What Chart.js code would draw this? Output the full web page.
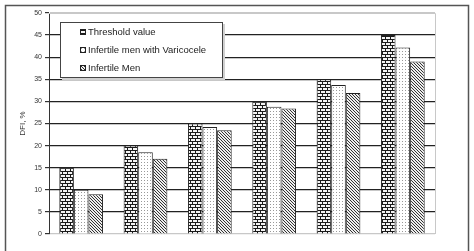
<!DOCTYPE html>
<html>
<head>
<meta charset="utf-8">
<script src="https://cdn.jsdelivr.net/npm/chart.js@4.4.1/dist/chart.umd.min.js"></script>
<style>
  html, body { margin: 0; padding: 0; background: #fff; }
  #wrap { width: 474px; height: 251px; }
</style>
</head>
<body>
<div id="wrap"><canvas id="dfiChart" width="474" height="251"></canvas></div>
<script>
// data
var groups = ['1', '2', '3', '4', '5', '6'];
var seriesNames = ['Threshold value', 'Infertile men with Varicocele', 'Infertile Men'];
var threshold = [15, 20, 25, 30, 35, 45];
var varicocele = [10, 18.5, 24.2, 28.8, 33.7, 42.2];
var infertile = [9, 17, 23.5, 28.4, 31.9, 39];
var yTicks = [0, 5, 10, 15, 20, 25, 30, 35, 40, 45, 50];

var ctx = document.getElementById('dfiChart').getContext('2d');

// fill patterns like the old excel ones
function makePattern(w, h, draw) {
    var c = document.createElement('canvas');
    c.width = w; c.height = h;
    var g = c.getContext('2d');
    draw(g);
    return ctx.createPattern(c, 'repeat');
}

var brick = makePattern(10, 6, function (g) {
    g.fillStyle = '#1a1a1a';
    g.fillRect(0, 0, 10, 6);
    g.fillStyle = '#f4f4f4';
    g.fillRect(1, 1, 4, 2); g.fillRect(6, 1, 4, 2);
    g.fillRect(3, 4, 4, 2); g.fillRect(8, 4, 2, 2); g.fillRect(0, 4, 2, 2);
});
var dotted = makePattern(3, 3, function (g) {
    g.fillStyle = '#fff';
    g.fillRect(0, 0, 3, 3);
    g.fillStyle = '#999';
    g.fillRect(0, 0, 1, 1);
});
var hatch = makePattern(3, 3, function (g) {
    g.fillStyle = '#eee';
    g.fillRect(0, 0, 3, 3);
    g.fillStyle = '#333';
    g.fillRect(0, 0, 1, 1); g.fillRect(1, 1, 1, 1); g.fillRect(2, 2, 1, 1);
});
var fills = [brick, dotted, hatch];

// frame around the figure + light border round the plot
var framePlugin = {
    id: 'frame',
    beforeDraw: function (chart) {
        var c = chart.ctx;
        c.save();
        c.strokeStyle = '#555';
        c.lineWidth = 1.5;
        c.strokeRect(5.5, 5.5, 463, 260);
        c.restore();
    },
    beforeDatasetsDraw: function (chart) {
        var a = chart.chartArea;
        var c = chart.ctx;
        c.save();
        c.strokeStyle = '#c8c8c8';
        c.lineWidth = 1;
        c.beginPath();
        c.moveTo(a.left, a.top + 0.5);
        c.lineTo(a.right + 0.5, a.top + 0.5);
        c.lineTo(a.right + 0.5, a.bottom);
        c.stroke();
        c.restore();
    }
};

// legend box sitting inside the plot
var boxLegend = {
    id: 'boxLegend',
    afterDraw: function (chart) {
        var c = chart.ctx;
        c.save();
        c.fillStyle = '#d0d0d0';
        c.fillRect(62, 24, 163, 56);
        c.fillStyle = '#fff';
        c.fillRect(60, 22, 163, 56);
        c.strokeStyle = '#444';
        c.lineWidth = 1;
        c.strokeRect(60.5, 22.5, 162, 55);
        c.font = '9.5px "Liberation Sans", Arial, sans-serif';
        c.textBaseline = 'middle';
        chart.data.datasets.forEach(function (ds, i) {
            var y = 32 + i * 18;
            c.fillStyle = ds.backgroundColor;
            c.fillRect(80, y - 3, 6, 6);
            c.strokeStyle = '#222';
            c.strokeRect(80.5, y - 2.5, 5, 5);
            c.fillStyle = '#222';
            c.fillText(ds.label, 88, y + 0.5);
        });
        c.restore();
    }
};

var dfiChart = new Chart(ctx, {
    type: 'bar',
    data: {
        labels: groups,
        datasets: [
            { label: seriesNames[0], data: threshold },
            { label: seriesNames[1], data: varicocele },
            { label: seriesNames[2], data: infertile }
        ].map(function (ds, i) {
            ds.backgroundColor = fills[i];
            ds.borderColor = '#222';
            ds.borderWidth = 1;
            ds.categoryPercentage = 0.68;
            ds.barPercentage = 1.0;
            return ds;
        })
    },
    options: {
        responsive: false,
        animation: false,
        layout: { padding: { left: 16, right: 39, top: 13, bottom: 17 } },
        scales: {
            x: {
                display: false
            },
            y: {
                min: 0,
                max: 50,
                afterBuildTicks: function (axis) {
                    axis.ticks = yTicks.map(function (v) { return { value: v }; });
                },
                afterFit: function (axis) { axis.width = 33; },
                border: { display: true, color: '#333', width: 1 },
                grid: {
                    color: function (c) {
                        var v = c.tick ? c.tick.value : 0;
                        return (v === 0 || v === 50) ? '#c8c8c8' : '#222';
                    },
                    tickColor: '#333',
                    lineWidth: 1.2,
                    tickLength: 4
                },
                ticks: {
                    color: '#333',
                    padding: 3,
                    font: { family: 'Liberation Sans, Arial, sans-serif', size: 7 }
                },
                title: {
                    display: true,
                    text: 'DFI, %',
                    color: '#333',
                    padding: 2,
                    font: { family: 'Liberation Sans, Arial, sans-serif', size: 8 }
                }
            }
        },
        plugins: {
            legend: { display: false },
            tooltip: { enabled: false }
        }
    },
    plugins: [framePlugin, boxLegend]
});
</script>
</body>
</html>
